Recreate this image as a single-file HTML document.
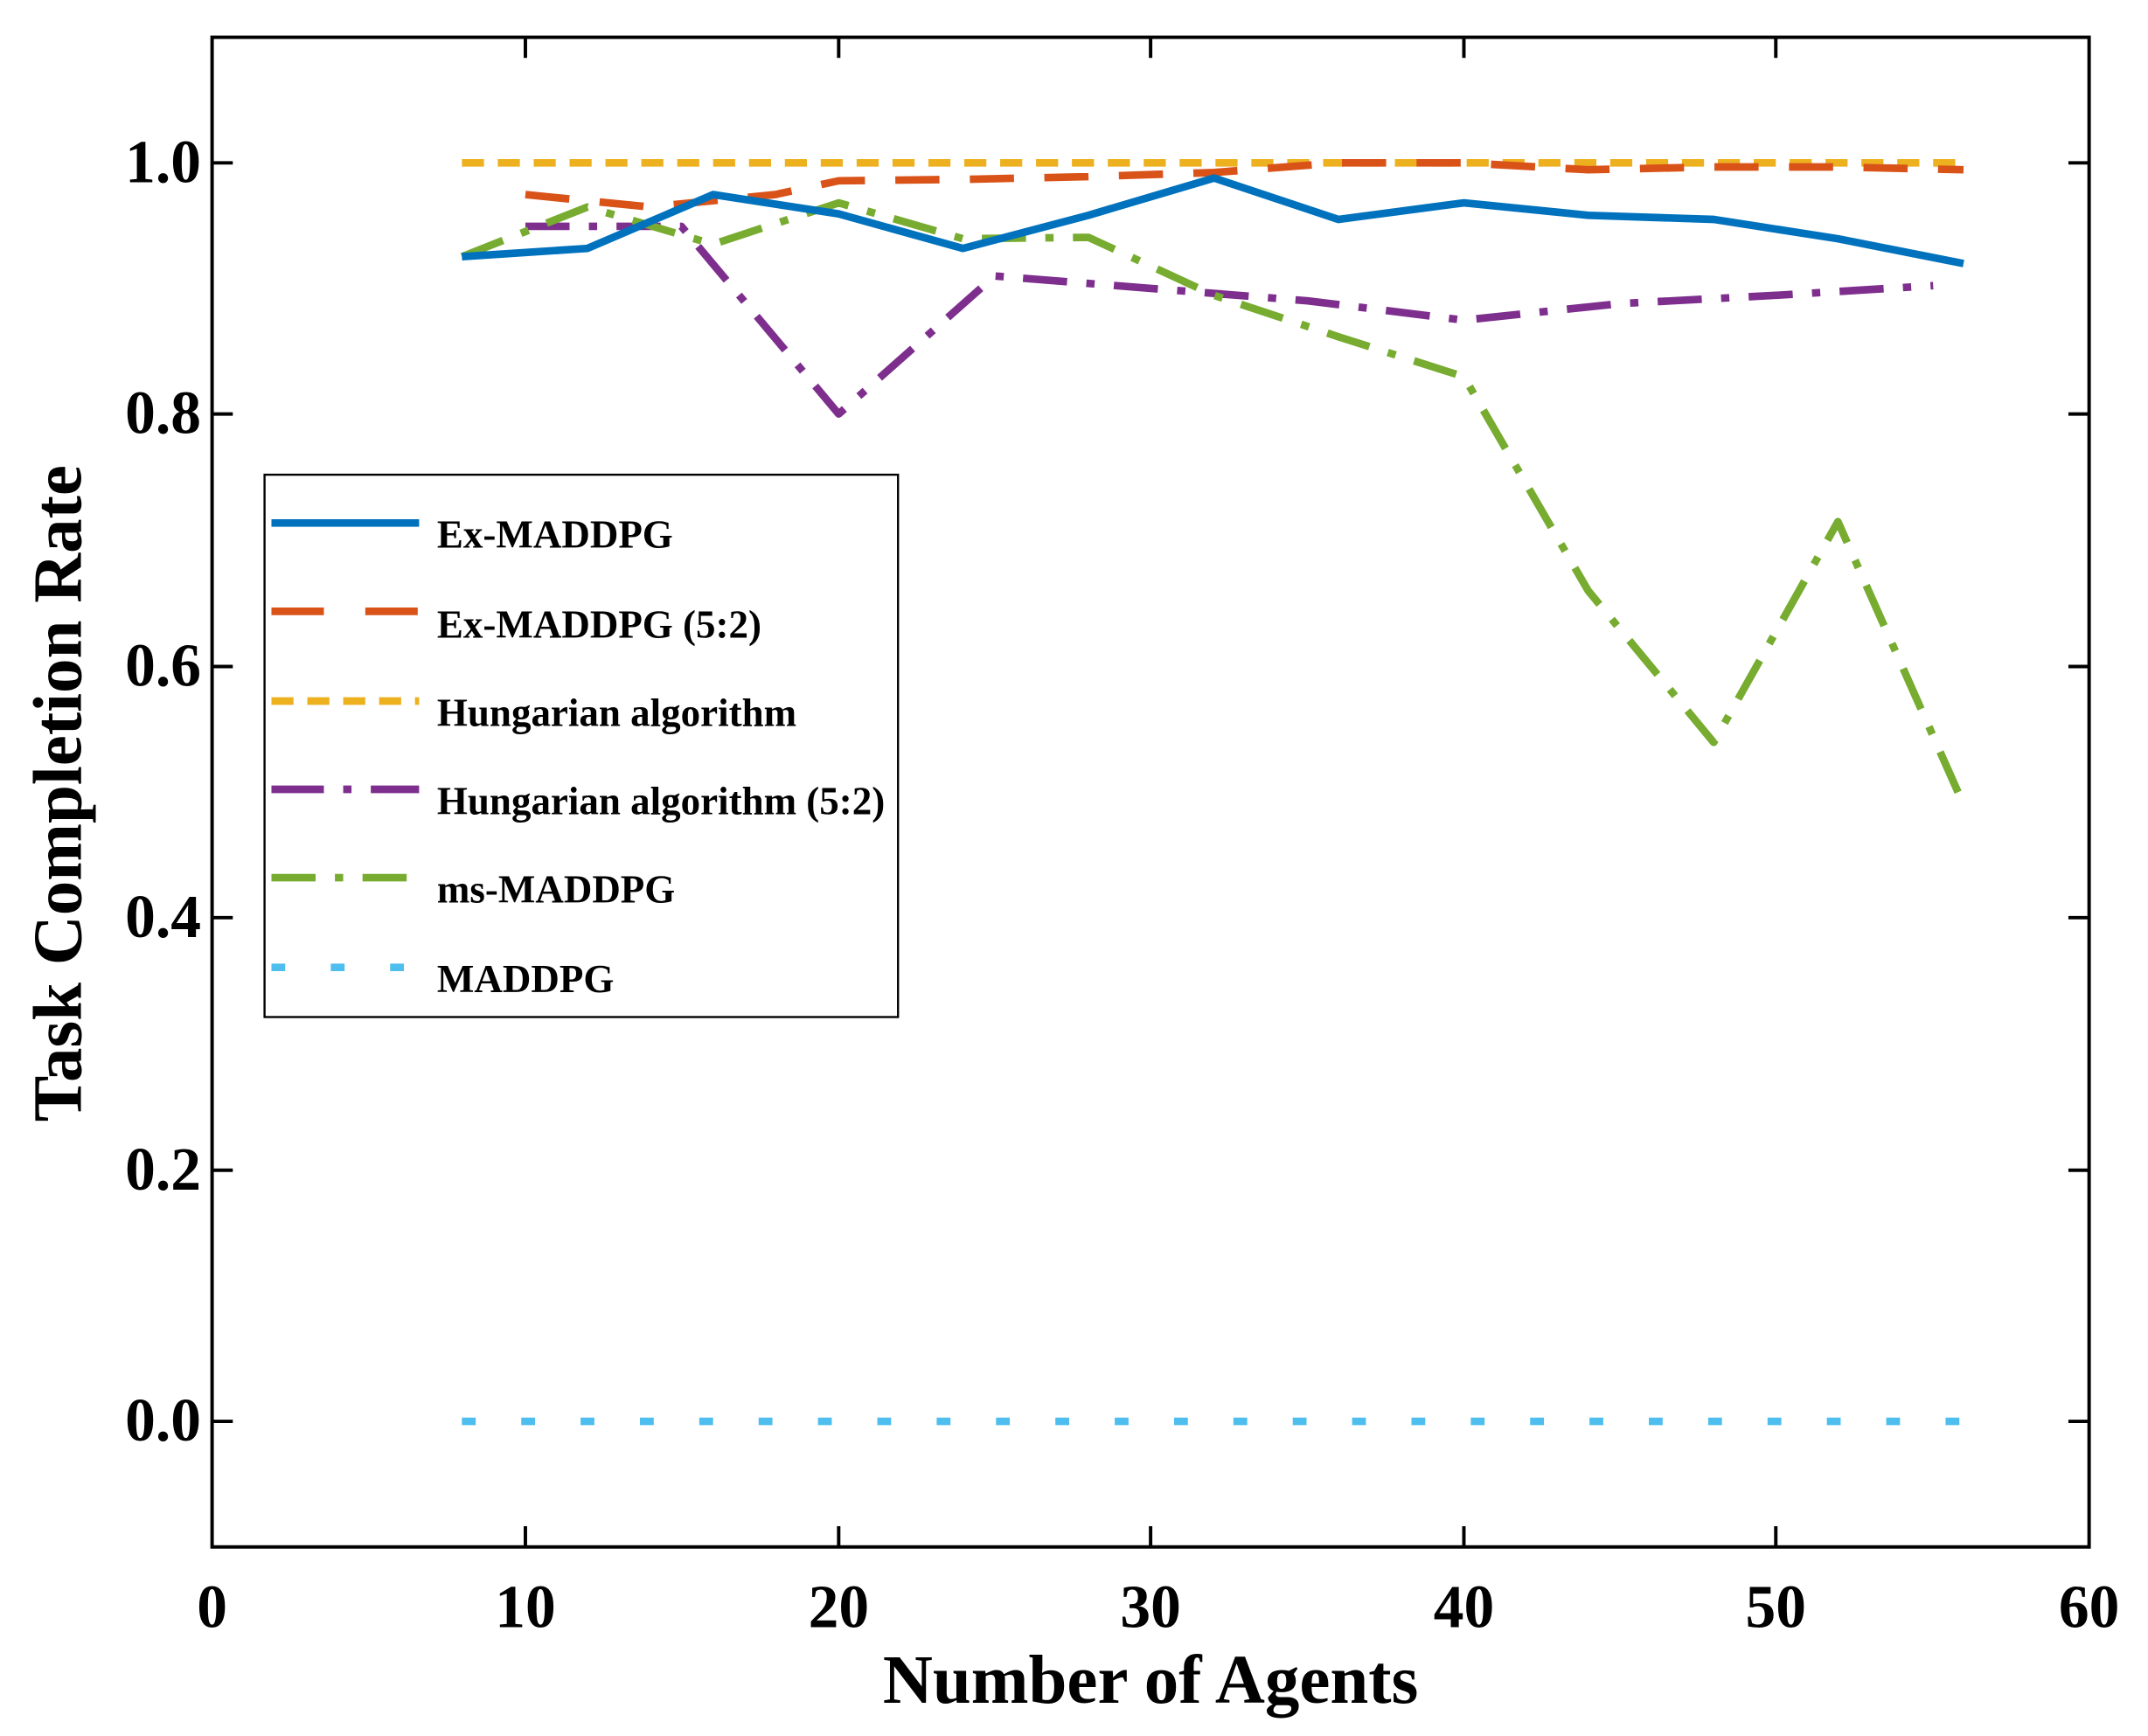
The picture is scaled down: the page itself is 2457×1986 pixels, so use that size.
<!DOCTYPE html>
<html><head><style>html,body{margin:0;padding:0;background:#fff}svg{display:block}</style></head><body>
<svg width="2457" height="1986" viewBox="0 0 1555 1258" xmlns="http://www.w3.org/2000/svg" font-family="'Liberation Serif',serif" font-weight="bold">
<rect x="0" y="0" width="1555" height="1258" fill="#fff"/>
<g fill="none" stroke-linejoin="round">
<polyline stroke="#EDB120" stroke-width="5.5" stroke-dasharray="16,10" points="334,118 1422,118"/>
<polyline stroke="#D95319" stroke-width="5.5" stroke-dasharray="32,22" points="380,141 470,150 561,141 607,131 697,130 788,128 879,125 969,118 1060,118 1150,123 1241,121 1331,121 1422,123"/>
<polyline stroke="#7E2F8E" stroke-width="5.5" stroke-dasharray="32,14,6,14" points="380,164 493,164 607,300 720,200 833,209 947,218 1060,232 1173,220 1286,214 1400,207"/>
<polyline stroke="#77AC30" stroke-width="5.5" stroke-dasharray="32,14,6,14" points="334,186 425,150 516,177 607,147 697,173 788,172 879,214 969,244 1060,273 1150,428 1241,538 1331,378 1422,583"/>
<polyline stroke="#0072BD" stroke-width="5.5" points="334,186 425,180 516,141 607,155 697,180 788,156 879,129 969,159 1060,147 1150,156 1241,159 1331,173 1422,191"/>
<polyline stroke="#4DBEEE" stroke-width="5.5" stroke-dasharray="10,33" points="334,1030 1422,1030"/>
</g>
<rect x="153" y="27" width="1360" height="1094" fill="none" stroke="#000" stroke-width="2.5"/>
<g stroke="#000" stroke-width="2.5">
<path d="M380,1121v-15M607,1121v-15M833,1121v-15M1060,1121v-15M1286,1121v-15M380,27v15M607,27v15M833,27v15M1060,27v15M1286,27v15"/>
<path d="M153,1030h15M153,848h15M153,665h15M153,483h15M153,300h15M153,118h15M1513,1030h-15M1513,848h-15M1513,665h-15M1513,483h-15M1513,300h-15M1513,118h-15"/>
</g>
<g font-size="44" text-anchor="middle" fill="#000">
<text x="153" y="1179">0</text><text x="380" y="1179">10</text><text x="607" y="1179">20</text><text x="833" y="1179">30</text><text x="1060" y="1179">40</text><text x="1286" y="1179">50</text><text x="1513" y="1179">60</text>
</g>
<g font-size="44" text-anchor="end" fill="#000">
<text x="145" y="1044">0.0</text><text x="145" y="862">0.2</text><text x="145" y="679">0.4</text><text x="145" y="497">0.6</text><text x="145" y="314">0.8</text><text x="145" y="132">1.0</text>
</g>
<text x="833" y="1234" font-size="50" text-anchor="middle">Number of Agents</text>
<text transform="translate(58,575) rotate(-90)" font-size="50" text-anchor="middle">Task Completion Rate</text>
<rect x="191" y="344" width="459" height="393" fill="#fff" stroke="#000" stroke-width="1.5"/>
<g fill="none" stroke-width="5.5">
<line x1="196" y1="379" x2="303" y2="379" stroke="#0072BD"/>
<line x1="196" y1="443" x2="303" y2="443" stroke="#D95319" stroke-dasharray="38,30"/>
<line x1="196" y1="508" x2="303" y2="508" stroke="#EDB120" stroke-dasharray="16,10"/>
<line x1="196" y1="572" x2="303" y2="572" stroke="#7E2F8E" stroke-dasharray="38,14,6,14"/>
<line x1="196" y1="636" x2="303" y2="636" stroke="#77AC30" stroke-dasharray="32,14,6,14"/>
<line x1="196" y1="701" x2="303" y2="701" stroke="#4DBEEE" stroke-dasharray="10,33"/>
</g>
<g font-size="28.5" fill="#000">
<text x="316" y="397">Ex-MADDPG</text>
<text x="316" y="462">Ex-MADDPG (5:2)</text>
<text x="316" y="526">Hungarian algorithm</text>
<text x="316" y="590">Hungarian algorithm (5:2)</text>
<text x="316" y="654">ms-MADDPG</text>
<text x="316" y="719">MADDPG</text>
</g>
</svg>
</body></html>
